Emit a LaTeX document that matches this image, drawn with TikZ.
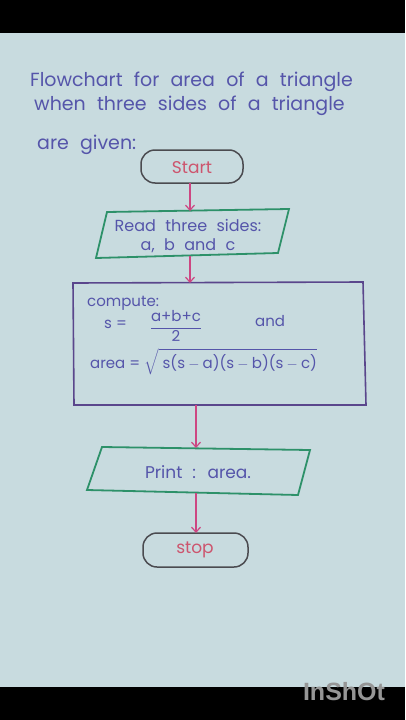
\documentclass[tikz,border=0pt]{standalone}
\usepackage{amsmath}
\usepackage{fontspec}
\setmainfont{Poppins}
\setsansfont{Liberation Sans}
\newfontfamily\titlefont[WordSpace=3.3]{Poppins}
\newfontfamily\widefont[WordSpace=2.2]{Poppins}
\usetikzlibrary{arrows.meta}
\definecolor{bg}{RGB}{200,219,223}
\definecolor{ink}{RGB}{85,85,170}
\definecolor{redink}{RGB}{205,85,110}
\definecolor{arrowc}{RGB}{205,70,130}
\definecolor{termc}{RGB}{75,75,80}
\definecolor{parac}{RGB}{45,145,105}
\definecolor{procc}{RGB}{90,70,140}
\definecolor{wm}{RGB}{150,150,150}
\tikzset{
  flowarrow/.style={draw=arrowc, line width=1.2pt, -{Straight Barb[length=5pt,width=9pt]}},
  term/.style={draw=termc, line width=1.5pt, rounded corners=14pt},
  para/.style={draw=parac, line width=1.8pt},
  proc/.style={draw=procc, line width=1.6pt},
  handtext/.style={text=ink, font=\fontsize{15}{17}\selectfont, inner sep=0pt},
  widetext/.style={text=ink, font=\widefont\fontsize{16}{19}\selectfont, inner sep=0pt},
  redtext/.style={text=redink, font=\fontsize{17}{19}\selectfont, inner sep=0pt},
  titletext/.style={text=ink, font=\titlefont\fontsize{19}{21}\selectfont, inner sep=0pt, anchor=base west},
}
\begin{document}
\begin{tikzpicture}[x=1pt,y=-1pt]
\useasboundingbox (0,0) rectangle (405,720);
\fill[bg] (0,0) rectangle (405,720);
\fill[black] (0,0) rectangle (405,33);
\fill[black] (0,687) rectangle (405,720);
\node[text=wm, font=\sffamily\bfseries\fontsize{25}{27}\selectfont, inner sep=0pt] (wmark) at (344,692) {InShOt};

% title
\node[titletext] (t1) at (30,86) {Flowchart for area of a triangle};
\node[titletext] (t2) at (34,110) {when three sides of a triangle};
\node[titletext] (t3) at (37,149) {are given:};

% start
\draw[term] (141,150) rectangle (243,183);
\node[redtext] (start) at (192,168) {Start};
\coordinate (startB) at (190,183);

% read
\draw[para] (107,212) -- (289,209) -- (278,253) -- (96,258) -- cycle;
\node[widetext, align=center] (read) at (188,236) {Read three sides:\\[0pt] a, b and c};
\coordinate (readT) at (190,211);
\coordinate (readB) at (190,256);

% compute
\draw[proc] (73,283) -- (363,282) -- (366,405) -- (74,405) -- cycle;
\coordinate (procT) at (190,283);
\coordinate (procB) at (196,405);
\node[handtext, anchor=base west] (comp) at (87,306) {compute:};
\node[handtext, anchor=base west] (s) at (104,328) {s =};
\node[handtext] (frac) at (176,326) {$\dfrac{\text{a+b+c}}{\text{2}}$};
\node[handtext, anchor=base west] (and) at (255,326) {and};
\node[handtext, anchor=base west] (area) at (90,368) {area = $\sqrt{\text{ s(s}-\text{a)(s}-\text{b)(s}-\text{c)}}$};

% print
\draw[para] (102,447) -- (310,450) -- (298,495) -- (87,490) -- cycle;
\node[widetext, font=\widefont\fontsize{17}{19}\selectfont] (print) at (198,472) {Print : area.};
\coordinate (printT) at (196,448);
\coordinate (printB) at (196,493);

% stop
\draw[term] (143,533) rectangle (248,567);
\node[redtext] (stop) at (195,550) {stop};
\coordinate (stopT) at (196,533);

% arrows
\draw[flowarrow] (startB) -- (readT);
\draw[flowarrow] (readB) -- (procT);
\draw[flowarrow] (procB) -- (printT);
\draw[flowarrow] (printB) -- (stopT);
\end{tikzpicture}
\end{document}
